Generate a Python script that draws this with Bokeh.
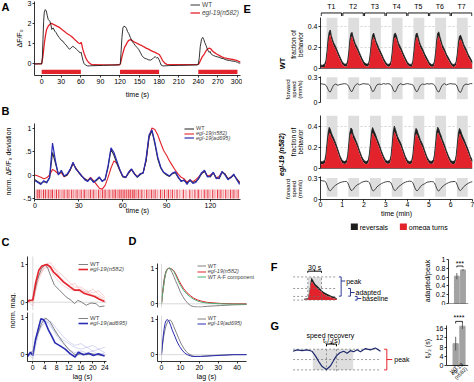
import numpy as np
from math import pi
from bokeh.plotting import figure
from bokeh.layouts import row, column
from bokeh.models import Range1d, Legend, LegendItem, Span, FixedTicker
from bokeh.core.properties import value
from bokeh.embed import file_html
from bokeh.resources import INLINE

FONT = "Liberation Sans"
BLACK = "#1e1e1e"; GRAY = "#808080"; RED = "#e3232c"; BLUE = "#2a2cb4"
GREEN = "#4dae78"; LPINK = "#f3a3a7"; LBLUE = "#aab0e4"; BAND = "#dedede"; NAVY = "#2f3d96"

# ---------------- data ----------------
# A: calcium traces (time s, dF/F0)
a_wt_t = [-11, -2, 0, 1, 2, 3, 4, 5.5, 7, 8.5, 10, 12.6, 14, 15.5, 17.7, 20, 22, 25, 27, 30, 32.7, 35, 37, 40, 42.8, 45, 47.8, 50, 52.9, 55, 57, 59, 60.5, 62, 63.5, 65, 67, 70.5, 75, 85, 95, 105, 115, 119, 120.5, 121.5, 123, 124.5, 126, 128, 130, 131.5, 133.5, 136, 138.5, 141, 143.6, 146, 148.6, 151, 153.6, 156, 158.6, 161, 164, 167, 170, 172, 174, 176, 178, 180, 181.5, 183, 186, 195, 210, 225, 238, 240, 241.5, 243, 245, 246.8, 248.5, 250, 251.8, 254, 256.8, 258, 260, 263, 266, 269.4, 272, 275, 278, 281, 284, 288, 291, 294.6, 297, 300, 302, 304.7]
a_wt_v = [0.0, 0.01, 0.0, 0.3, 1.2, 2.1, 2.55, 2.68, 2.62, 2.4, 2.2, 2.1, 1.95, 1.7, 1.78, 1.62, 1.55, 1.38, 1.3, 1.17, 1.12, 1.0, 0.95, 0.82, 0.72, 0.8, 0.87, 0.82, 0.74, 0.68, 0.6, 0.55, 0.58, 0.35, 0.15, 0.02, -0.05, -0.1, -0.09, -0.08, -0.07, -0.06, -0.05, -0.04, 0.0, 0.5, 1.3, 1.78, 1.86, 1.84, 1.75, 1.6, 1.5, 1.3, 1.12, 1.02, 0.9, 0.82, 0.72, 0.58, 0.42, 0.32, 0.27, 0.25, 0.2, 0.19, 0.25, 0.32, 0.36, 0.3, 0.32, 0.2, 0.08, -0.05, -0.1, -0.08, -0.07, -0.06, -0.05, -0.03, 0.3, 0.85, 1.22, 1.31, 1.2, 1.05, 0.92, 0.72, 0.57, 0.62, 0.48, 0.42, 0.38, 0.35, 0.33, 0.28, 0.27, 0.22, 0.19, 0.17, 0.15, 0.13, 0.12, 0.08, 0.05, 0.04]
a_n_t = [-11, -1, 0, 2, 4, 6, 7.6, 9, 11, 13, 15.2, 18, 21, 24, 27.7, 30, 33, 35, 37.8, 40, 42.5, 45.3, 48, 50.4, 53, 55.4, 57.5, 59, 60.5, 61.5, 63, 65, 68, 70, 73, 76, 80, 95, 110, 118, 120, 121, 123, 125, 127, 128.6, 131, 133, 136, 139, 141, 143.6, 147, 150, 153.6, 157, 160, 163.7, 167, 170, 173.8, 176, 178.8, 180.5, 182.8, 185, 188.9, 192, 200, 215, 230, 239, 240.8, 243, 246, 249.2, 252, 254.5, 256.8, 259, 261.5, 264.4, 268, 272, 276, 280, 284, 289.7, 293, 297.3, 300, 302, 304.7]
a_n_v = [0.0, 0.0, 0.02, 0.4, 1.0, 1.45, 1.7, 1.8, 1.9, 1.97, 2.0, 1.95, 1.9, 1.85, 1.79, 1.72, 1.65, 1.6, 1.53, 1.48, 1.43, 1.37, 1.29, 1.21, 1.14, 1.06, 1.02, 1.0, 1.07, 0.95, 0.73, 0.52, 0.27, 0.15, 0.05, -0.02, -0.04, -0.05, -0.05, -0.04, -0.03, 0.05, 0.35, 0.6, 0.82, 0.9, 1.05, 1.15, 1.2, 1.15, 1.1, 1.06, 1.0, 0.95, 0.9, 0.84, 0.78, 0.73, 0.67, 0.62, 0.57, 0.53, 0.49, 0.45, 0.33, 0.18, 0.03, -0.02, -0.03, -0.03, -0.03, -0.02, 0.0, 0.15, 0.35, 0.49, 0.65, 0.74, 0.78, 0.75, 0.65, 0.57, 0.49, 0.42, 0.35, 0.3, 0.27, 0.24, 0.22, 0.19, 0.16, 0.13, 0.1]
stim_on = [0, 120, 240]
stim_off = [60, 180, 300]
a_xticks = [0, 30, 60, 90, 120, 150, 180, 210, 240, 270, 300]

# B: normalized deviation (time s)
b_t = list(range(0, 141, 2))
b_ad = [-0.12, -0.16, -0.20, -0.12, -0.17, -0.05, 0.68, 0.30, 0.00, 0.10,
        -0.02, 0.02, 0.12, 0.27, 0.12, 0.06, -0.02, -0.10, -0.14, -0.06,
        -0.16, -0.10, -0.04, -0.14, -0.08, 0.20, 0.58, 0.48, 0.30, 0.12,
        -0.02, -0.06, 0.06, 0.13, 0.02, -0.04, 0.03, 0.04, 0.35, 0.85,
        0.96, 0.70, 0.38, 0.17, 0.06, 0.02, -0.02, 0.04, 0.07, -0.04,
        -0.14, -0.10, -0.20, -0.10, -0.18, -0.16, -0.06, 0.05, 0.10, -0.04,
        -0.02, 0.06, -0.08, -0.06, 0.08, 0.00, -0.10, -0.05, 0.02, -0.10, -0.20]
b_wt = [-0.10, -0.14, -0.18, -0.14, -0.15, -0.06, 0.48, 0.25, 0.02, 0.08,
        -0.03, 0.00, 0.10, 0.25, 0.14, 0.05, -0.03, -0.08, -0.12, -0.08,
        -0.14, -0.12, -0.06, -0.12, -0.10, 0.16, 0.55, 0.42, 0.25, 0.10,
        -0.04, -0.05, 0.04, 0.12, 0.03, -0.05, 0.01, 0.05, 0.30, 0.80,
        0.94, 0.66, 0.34, 0.15, 0.05, 0.00, -0.03, 0.03, 0.05, -0.06,
        -0.12, -0.12, -0.17, -0.12, -0.16, -0.14, -0.08, 0.03, 0.08, -0.03,
        -0.04, 0.05, -0.06, -0.08, 0.06, 0.02, -0.08, -0.06, 0.00, -0.08, -0.17]
b_n = [0.00, -0.02, -0.05, -0.08, -0.06, 0.00, 0.12, 0.08, 0.02, 0.05,
       -0.04, 0.00, 0.10, 0.24, 0.15, 0.05, -0.02, -0.08, -0.12, -0.05,
       -0.12, -0.20, -0.28, -0.30, -0.22, -0.05, 0.15, 0.30, 0.25, 0.10,
       -0.02, -0.05, 0.04, 0.12, 0.03, -0.03, 0.02, 0.05, 0.30, 0.80,
       1.00, 0.97, 0.85, 0.68, 0.52, 0.42, 0.30, 0.20, 0.10, 0.02,
       -0.05, -0.08, -0.15, -0.10, -0.14, -0.10, -0.04, 0.03, 0.08, -0.02,
       0.00, 0.04, -0.06, -0.03, 0.06, 0.02, -0.08, -0.04, 0.00, -0.08, -0.15]
raster_strong = [1.5, 3.2, 5.8, 7.1, 9.4, 12.0, 14.7, 16.3, 19.9, 22.5, 25.1, 28.8, 31.6, 34.0, 37.9, 40.2, 43.5, 46.1, 48.0, 50.7, 53.3, 55.2, 57.6, 58.9, 61.0, 62.4, 63.8, 65.5, 66.9, 68.3, 70.7, 73.1, 76.4, 79.8, 82.2, 85.9, 88.6, 91.3, 94.0, 97.2, 101.5, 105.9, 109.4, 112.0, 115.8, 118.3, 121.6, 124.9, 127.2, 130.5, 133.8, 136.1, 139.0]
raster_weak = [2.4, 4.5, 8.3, 10.6, 11.2, 13.5, 17.8, 18.6, 21.3, 23.7, 26.4, 27.5, 30.2, 33.1, 35.5, 36.7, 39.1, 41.8, 44.6, 47.2, 49.3, 51.9, 54.4, 56.5, 59.7, 60.3, 64.6, 67.6, 69.5, 71.9, 74.8, 77.5, 78.6, 81.0, 83.7, 87.1, 90.2, 92.6, 95.5, 99.0, 103.3, 107.6, 111.1, 113.9, 117.0, 119.7, 123.1, 126.0, 128.8, 132.1, 135.0, 137.6]

# C: cross-correlation magnitudes (lag s)
c1_wt_lag = [-1.8, 0, 1.4, 2.9, 3.7, 4.2, 5.0, 6.1, 7.2, 8.9, 11.1, 12.8, 13.9, 15.0, 16.1, 17.8, 19.4, 21.1, 22.2, 23.9]
c1_wt_v = [0.03, 0.05, 0.57, 0.89, 0.97, 1.0, 0.9, 0.67, 0.45, 0.32, 0.14, 0.05, -0.04, 0.05, 0.01, -0.08, -0.02, -0.04, -0.12, -0.1]
c1_n_lag = [-1.8, -1, 0, 0.9, 2.0, 3.0, 4.7, 5.8, 6.9, 8.6, 10.2, 12.5, 13.9, 15.6, 17.2, 18.9, 20.6, 22.2, 23.9]
c1_n_v = [0.02, 0.05, 0.06, 0.5, 0.85, 0.96, 1.0, 0.94, 0.8, 0.67, 0.54, 0.4, 0.32, 0.32, 0.23, 0.19, 0.15, 0.08, 0.02]
c_ind_lag = [-2, 0, 2, 4, 6, 8, 10, 12, 14, 16, 18, 20, 22, 24]
c1_ind = [[0.1, 0.0, 0.75, 0.95, 0.85, 0.6, 0.45, 0.35, 0.3, 0.35, 0.25, 0.2, 0.15, 0.05],
          [-0.05, 0.1, 0.6, 1.0, 1.05, 0.8, 0.55, 0.45, 0.5, 0.3, 0.25, 0.35, 0.2, 0.1],
          [0.05, -0.1, 0.7, 0.9, 0.95, 0.85, 0.7, 0.55, 0.4, 0.4, 0.3, 0.25, 0.3, 0.15],
          [0.0, 0.05, 0.8, 1.0, 0.9, 0.75, 0.6, 0.45, 0.35, 0.25, 0.3, 0.15, 0.1, 0.0]]
c2_wt_lag = [-1.9, 0, 1.4, 2.9, 4.0, 4.7, 5.8, 7.0, 8.6, 10.2, 11.9, 13.6, 14.6, 16.1, 17.8, 19.4, 21.6, 23.9]
c2_wt_v = [-0.02, 0.1, 0.5, 0.84, 0.97, 0.97, 0.88, 0.71, 0.5, 0.32, 0.15, 0.03, -0.01, 0.03, 0.0, 0.03, 0.0, -0.03]
c2_ad_lag = [-1.9, -0.8, 0, 0.9, 2.0, 2.7, 3.6, 4.1, 5.2, 6.3, 7.4, 9.1, 10.8, 12.4, 14.1, 15.2, 16.9, 18.6, 20.2, 21.9, 23.9]
c2_ad_v = [-0.06, 0.07, -0.02, 0.41, 0.75, 0.97, 0.94, 0.88, 0.67, 0.5, 0.32, 0.24, 0.15, 0.03, -0.06, 0.07, 0.0, 0.04, -0.02, 0.03, -0.03]
c2_ind = [[0.05, -0.1, 0.6, 0.95, 0.75, 0.55, 0.4, 0.3, 0.2, 0.15, 0.2, 0.1, 0.15, 0.05],
          [-0.1, 0.1, 0.7, 0.85, 0.9, 0.7, 0.5, 0.35, 0.25, 0.3, 0.2, 0.25, 0.15, 0.2],
          [0.0, 0.0, 0.8, 1.0, 0.8, 0.5, 0.3, 0.15, 0.05, 0.1, 0.05, 0.1, 0.0, 0.05]]

# D: model fits (lag s)
d1_wt_t = [0, 0.5, 1.2, 2.0, 2.5, 3.2, 3.9, 4.5, 5.6, 6.5, 7.4, 8.7, 10, 11.3, 12.7, 14, 15.3, 17, 18.9, 21, 24.2, 31.2, 38, 45]
d1_wt_v = [0, 0.3, 0.65, 0.85, 0.93, 0.98, 1.0, 0.98, 0.88, 0.77, 0.65, 0.5, 0.33, 0.2, 0.09, 0.01, -0.05, -0.08, -0.09, -0.09, -0.07, -0.05, -0.03, -0.02]
d1_n_t = [0, 0.6, 1.6, 2.3, 3.0, 3.7, 4.4, 5.4, 6.5, 7.8, 9.2, 10.5, 11.8, 13.5, 15.3, 17, 18.9, 21.5, 24.2, 31.2, 38, 45]
d1_n_v = [0, 0.3, 0.7, 0.88, 0.97, 0.995, 1.0, 0.98, 0.93, 0.81, 0.65, 0.53, 0.42, 0.31, 0.23, 0.16, 0.11, 0.07, 0.04, 0.01, 0.0, 0.0]
d1_af_v = [0, 0.29, 0.68, 0.87, 0.96, 0.99, 1.0, 0.97, 0.91, 0.77, 0.6, 0.48, 0.37, 0.27, 0.19, 0.13, 0.08, 0.04, 0.02, 0.0, -0.01, -0.01]
d2_wt_t = [0, 0.5, 1.2, 1.9, 2.5, 3.2, 3.9, 4.8, 5.6, 6.5, 7.8, 9.2, 10.5, 11.8, 13.2, 14.5, 17.1, 20.6, 27.7, 38.3, 45]
d2_wt_v = [0, 0.25, 0.53, 0.72, 0.84, 0.93, 0.98, 0.98, 0.91, 0.8, 0.63, 0.45, 0.3, 0.18, 0.08, 0.02, -0.05, -0.05, -0.02, 0.0, 0.0]
d2_ad_t = [0, 0.4, 0.9, 1.4, 1.9, 2.4, 3.0, 3.5, 4.1, 4.8, 5.6, 7.0, 8.3, 9.6, 10.9, 12.2, 13.6, 16.2, 20.6, 27.7, 38.3, 45]
d2_ad_v = [0, 0.25, 0.53, 0.74, 0.89, 0.97, 1.0, 0.98, 0.93, 0.84, 0.71, 0.53, 0.36, 0.23, 0.13, 0.05, 0.0, -0.05, -0.05, -0.03, 0.0, 0.0]

# E: behaviour fractions & speed (time min)
e_off = [0.0, 0.1, 0.2, 0.25, 0.3, 0.35, 0.4, 0.45, 0.5, 0.55, 0.6, 0.7, 0.8, 0.9]
e_t = [k + o for k in range(7) for o in e_off] + [7.0]
wt_omega = [0.012, 0.01, 0.018, 0.05, 0.13, 0.24, 0.31, 0.33, 0.28, 0.25, 0.22, 0.18, 0.13, 0.085,
            0.04, 0.022, 0.016, 0.04, 0.12, 0.23, 0.29, 0.31, 0.27, 0.24, 0.21, 0.17, 0.12, 0.075,
            0.036, 0.02, 0.02, 0.05, 0.13, 0.22, 0.28, 0.30, 0.27, 0.235, 0.21, 0.16, 0.12, 0.072,
            0.035, 0.016, 0.02, 0.04, 0.12, 0.23, 0.29, 0.30, 0.28, 0.24, 0.21, 0.17, 0.12, 0.078,
            0.036, 0.02, 0.015, 0.04, 0.13, 0.23, 0.29, 0.30, 0.27, 0.23, 0.20, 0.16, 0.11, 0.074,
            0.034, 0.016, 0.016, 0.04, 0.12, 0.23, 0.30, 0.31, 0.27, 0.24, 0.20, 0.16, 0.11, 0.076,
            0.035, 0.015, 0.02, 0.04, 0.11, 0.21, 0.27, 0.28, 0.26, 0.23, 0.20, 0.16, 0.11, 0.075, 0.036]
wt_rev = [0.02, 0.022, 0.025, 0.03, 0.035, 0.045, 0.04, 0.04, 0.035, 0.03, 0.03, 0.03, 0.028, 0.025,
          0.024, 0.022, 0.026, 0.032, 0.035, 0.042, 0.045, 0.038, 0.034, 0.032, 0.03, 0.028, 0.03, 0.026,
          0.025, 0.024, 0.024, 0.03, 0.034, 0.04, 0.042, 0.04, 0.033, 0.03, 0.031, 0.029, 0.027, 0.026,
          0.024, 0.023, 0.025, 0.031, 0.036, 0.041, 0.043, 0.039, 0.034, 0.031, 0.03, 0.029, 0.028, 0.025,
          0.025, 0.022, 0.024, 0.03, 0.034, 0.04, 0.041, 0.04, 0.032, 0.031, 0.03, 0.028, 0.029, 0.026,
          0.024, 0.023, 0.025, 0.031, 0.035, 0.043, 0.042, 0.041, 0.034, 0.03, 0.031, 0.028, 0.027, 0.025,
          0.025, 0.022, 0.024, 0.03, 0.033, 0.04, 0.042, 0.04, 0.033, 0.031, 0.029, 0.028, 0.028, 0.026, 0.025]
egl_omega = [0.04, 0.04, 0.05, 0.10, 0.20, 0.29, 0.34, 0.33, 0.30, 0.28, 0.26, 0.21, 0.15, 0.09,
             0.05, 0.042, 0.048, 0.09, 0.19, 0.29, 0.33, 0.33, 0.29, 0.27, 0.25, 0.20, 0.14, 0.085,
             0.05, 0.04, 0.05, 0.10, 0.20, 0.30, 0.34, 0.32, 0.30, 0.28, 0.25, 0.20, 0.14, 0.09,
             0.052, 0.043, 0.05, 0.09, 0.19, 0.30, 0.35, 0.33, 0.30, 0.27, 0.25, 0.21, 0.15, 0.09,
             0.05, 0.04, 0.047, 0.09, 0.19, 0.29, 0.33, 0.32, 0.29, 0.27, 0.24, 0.20, 0.14, 0.085,
             0.048, 0.042, 0.05, 0.10, 0.20, 0.30, 0.34, 0.33, 0.30, 0.28, 0.25, 0.20, 0.14, 0.088,
             0.05, 0.04, 0.048, 0.09, 0.19, 0.29, 0.33, 0.32, 0.29, 0.27, 0.25, 0.20, 0.15, 0.09, 0.05]
egl_rev = [0.025, 0.025, 0.03, 0.038, 0.042, 0.05, 0.052, 0.045, 0.04, 0.035, 0.032, 0.03, 0.03, 0.028,
           0.027, 0.024, 0.03, 0.036, 0.044, 0.048, 0.055, 0.046, 0.038, 0.036, 0.031, 0.03, 0.029, 0.028,
           0.026, 0.025, 0.028, 0.038, 0.042, 0.052, 0.05, 0.044, 0.04, 0.034, 0.033, 0.031, 0.03, 0.027,
           0.025, 0.026, 0.03, 0.037, 0.043, 0.05, 0.054, 0.045, 0.039, 0.035, 0.032, 0.03, 0.029, 0.028,
           0.027, 0.024, 0.029, 0.038, 0.041, 0.049, 0.052, 0.046, 0.04, 0.034, 0.032, 0.031, 0.03, 0.027,
           0.026, 0.025, 0.03, 0.036, 0.042, 0.05, 0.053, 0.044, 0.039, 0.036, 0.031, 0.03, 0.029, 0.028,
           0.025, 0.026, 0.029, 0.037, 0.043, 0.05, 0.051, 0.045, 0.04, 0.035, 0.032, 0.03, 0.03, 0.027, 0.026]
wt_speed = [0.225, 0.22, 0.215, 0.205, 0.185, 0.155, 0.13, 0.125, 0.15, 0.18, 0.205, 0.22, 0.205, 0.215,
            0.22, 0.225, 0.22, 0.21, 0.19, 0.16, 0.135, 0.13, 0.155, 0.185, 0.205, 0.225, 0.21, 0.22,
            0.225, 0.22, 0.22, 0.21, 0.19, 0.155, 0.13, 0.135, 0.16, 0.19, 0.21, 0.22, 0.215, 0.225,
            0.22, 0.225, 0.22, 0.205, 0.185, 0.15, 0.13, 0.13, 0.155, 0.185, 0.21, 0.225, 0.21, 0.22,
            0.225, 0.22, 0.215, 0.21, 0.19, 0.16, 0.135, 0.13, 0.15, 0.18, 0.205, 0.22, 0.215, 0.225,
            0.22, 0.225, 0.22, 0.205, 0.185, 0.155, 0.13, 0.125, 0.15, 0.18, 0.205, 0.225, 0.21, 0.22,
            0.225, 0.22, 0.22, 0.21, 0.185, 0.15, 0.125, 0.12, 0.145, 0.18, 0.205, 0.22, 0.215, 0.225, 0.225]
egl_speed = [0.265, 0.26, 0.255, 0.24, 0.2, 0.16, 0.13, 0.12, 0.135, 0.155, 0.175, 0.2, 0.22, 0.235,
             0.245, 0.25, 0.25, 0.235, 0.2, 0.16, 0.13, 0.125, 0.14, 0.16, 0.18, 0.205, 0.22, 0.24,
             0.25, 0.255, 0.25, 0.235, 0.2, 0.155, 0.125, 0.12, 0.135, 0.155, 0.175, 0.2, 0.22, 0.235,
             0.245, 0.25, 0.245, 0.23, 0.195, 0.155, 0.13, 0.125, 0.14, 0.16, 0.18, 0.2, 0.225, 0.24,
             0.25, 0.255, 0.25, 0.235, 0.2, 0.16, 0.13, 0.12, 0.135, 0.155, 0.18, 0.205, 0.22, 0.24,
             0.245, 0.25, 0.245, 0.23, 0.195, 0.155, 0.125, 0.12, 0.135, 0.155, 0.175, 0.2, 0.22, 0.235,
             0.245, 0.25, 0.25, 0.235, 0.2, 0.16, 0.13, 0.125, 0.14, 0.16, 0.18, 0.205, 0.225, 0.24, 0.25]
band_on = [0.28, 1.28, 2.28, 3.28, 4.28, 5.28, 6.28]
band_off = [0.78, 1.78, 2.78, 3.78, 4.78, 5.78, 6.78]
t_labels = ["T1", "T2", "T3", "T4", "T5", "T6", "T7"]
t_centers = [0.5, 1.5, 2.5, 3.5, 4.5, 5.5, 6.5]
e_legend_labels = ["reversals", "omega turns"]
e_legend_colors = [BLACK, RED]

# F schematic (time s, fraction)
f_t = [-8, -4, 0, 2, 4.4, 6, 8, 10, 11.7, 14, 16.8, 20, 24, 27, 30, 34, 38.8, 44, 49.7, 55, 60.6, 64]
f_tot = [0.02, 0.025, 0.03, 0.08, 0.18, 0.28, 0.355, 0.33, 0.31, 0.28, 0.25, 0.23, 0.2, 0.18, 0.16, 0.13, 0.11, 0.09, 0.07, 0.055, 0.04, 0.02]
f_om = [0.005, 0.008, 0.01, 0.05, 0.13, 0.22, 0.29, 0.28, 0.26, 0.235, 0.21, 0.19, 0.16, 0.145, 0.125, 0.1, 0.08, 0.06, 0.045, 0.03, 0.02, 0.008]
f_levels = [0.364, 0.182, 0.057, 0.0]
f_br_x = [73.0, 93.4, 108.0]
f_br_top = [0.364, 0.182, 0.057]
f_br_bot = [0.062, 0.062, 0.0]
f_br_mid = [0.30, 0.119, 0.025]
f_br_lab = ["peak", "adapted", "baseline"]

# G schematic (time s, speed)
g_t = [-14.6, -11.6, -7.9, -4.2, -0.5, 2.0, 4.5, 7.0, 10.2, 13.1, 15.6, 17.6, 20.1, 23.0, 25.5, 28.0, 30.4, 32.9, 35.4, 39.1, 42.8, 46.5, 50.3]
g_v = [0.21, 0.217, 0.213, 0.217, 0.21, 0.188, 0.16, 0.136, 0.122, 0.139, 0.167, 0.188, 0.203, 0.21, 0.201, 0.213, 0.208, 0.217, 0.208, 0.223, 0.217, 0.226, 0.21]
g_levels = [0.22, 0.17, 0.12]
g_tmin = 10.2
g_thalf = 17.6

# bar charts
bar_x = [1, 2]
fbar_v = [0.62, 0.76]
fbar_e = [0.07, 0.02]
gbar_v = [9.5, 17.1]
gbar_e = [3.0, 1.2]
bar_names = ["WT", "egl-19\n(n582)"]


# ---------------- helpers ----------------
def style_ax(ax, fs="7px"):
    ax.axis_line_color = "black"; ax.axis_line_width = 0.8
    ax.major_tick_line_color = "black"; ax.major_tick_line_width = 0.8
    ax.major_tick_out = 2; ax.major_tick_in = 0
    ax.minor_tick_line_color = None
    ax.major_label_text_font = FONT; ax.major_label_text_font_size = fs
    ax.major_label_text_color = "black"
    ax.axis_label_text_font = FONT; ax.axis_label_text_font_size = fs
    ax.axis_label_text_font_style = "normal"; ax.axis_label_text_color = "black"
    ax.major_label_standoff = 1; ax.axis_label_standoff = 3


def mkfig(w, h, xr, yr, top=0, right=0, bottom=0, left=0, xaxis=True, yaxis=True, free=False):
    p = figure(width=w, height=h, x_range=Range1d(*xr), y_range=Range1d(*yr),
               output_backend="svg", toolbar_location=None,
               x_axis_location="below" if xaxis else None,
               y_axis_location="left" if yaxis else None,
               min_border_top=top, min_border_right=right,
               min_border_bottom=bottom, min_border_left=left)
    p.outline_line_color = None
    p.grid.visible = False
    for ax in p.axis:
        style_ax(ax)
    if free:
        try:
            p.frame_align = False
        except Exception:
            pass
    return p


def leg(p, r, label, fl, fb, px, pyc, fs="7px", rowh=7, italic=False, gw=10):
    ih = int(round(rowh))
    L = Legend(items=[LegendItem(label=label, renderers=[r])],
               location=(px - fl, fb - pyc - rowh / 2),
               padding=0, margin=0, spacing=0, border_line_color=None,
               background_fill_alpha=0, label_text_font=FONT, label_text_font_size=fs,
               label_standoff=2, glyph_width=gw, glyph_height=ih, label_height=ih,
               label_text_font_style="italic" if italic else "normal",
               label_text_baseline="middle")
    p.add_layout(L)


def txt(p, x, y, s, size="7px", align="center", baseline="middle", style="normal", angle=0.0, lh=1.05):
    p.text(x=x, y=y, text=s, text_font=value(FONT), text_font_size=size, text_align=align,
           text_baseline=baseline, text_font_style=style, angle=angle, text_line_height=lh)


# ---------------- letter column for A / B (page coordinates) ----------------
LC = mkfig(12, 230, (0, 12), (230, 0), xaxis=False, yaxis=False, free=True)
txt(LC, [1], [0.5], ["A"], size="11px", align="left", baseline="top", style="bold")
txt(LC, [1], [104], ["B"], size="11px", align="left", baseline="top", style="bold")
txt(LC, [8], [161], ["norm. ΔF/F₀ deviation"], angle=pi / 2)

# ---------------- A ----------------
pA = mkfig(230, 100, (-11, 304.7), (-0.569, 3.08), top=1, right=2, bottom=22, left=19)
pA.quad(left=stim_on, right=stim_off, bottom=-0.5, top=-0.28, color=RED, line_color=None)
rAn = pA.line(a_n_t, a_n_v, color=RED, line_width=1.3)
rAw = pA.line(a_wt_t, a_wt_v, color=BLACK, line_width=0.9)
pA.xaxis.ticker = FixedTicker(ticks=a_xticks)
pA.yaxis.ticker = FixedTicker(ticks=[0, 1, 2, 3])
pA.xaxis.axis_label = "time (s)"
pA.yaxis.axis_label = "ΔF/F₀"
pA.yaxis.axis_label_standoff = 2
pA.xaxis.axis_label_standoff = 4
leg(pA, rAw, "WT", 31, 78, 187, 7.5, fs="6.5px")
leg(pA, rAn, "egl-19(n582)", 31, 78, 187, 15, fs="6.5px", italic=True)

# ---------------- B ----------------
pB = mkfig(230, 130, (-0.34, 140.6), (-0.521, 1.096), top=23, right=2, bottom=31, left=18)
pB.quad(left=[0], right=[140], bottom=[-0.5], top=[-0.31], color="#fbdde0", line_color=None)
pB.segment(x0=raster_weak, y0=-0.5, x1=raster_weak, y1=-0.31, color="#ef8f95", line_width=0.9)
pB.segment(x0=raster_strong, y0=-0.5, x1=raster_strong, y1=-0.31, color=RED, line_width=0.9)
rBn = pB.line(b_t, b_n, color=RED, line_width=1.1)
rBw = pB.line(b_t, b_wt, color="#333333", line_width=1.1)
rBa = pB.line(b_t, b_ad, color=BLUE, line_width=1.2)
pB.xaxis.ticker = FixedTicker(ticks=[0, 30, 60, 90, 120])
pB.yaxis.ticker = FixedTicker(ticks=[-0.5, 0, 0.5, 1])
pB.yaxis.major_label_overrides = {-0.5: "-.5", 0: "0", 0.5: ".5", 1: "1"}
pB.xaxis.axis_label = "time (s)"
pB.xaxis.axis_label_standoff = -4
leg(pB, rBw, "WT", 30, 199, 180, 129, fs="5.5px", rowh=4.7)
leg(pB, rBn, "egl-19(n582)", 30, 199, 180, 133.7, fs="5.5px", rowh=4.7, italic=True)
leg(pB, rBa, "egl-19(ad695)", 30, 199, 180, 138.4, fs="5.5px", rowh=4.7, italic=True)

# ---------------- E labels column (page coordinates) ----------------
GE = mkfig(62, 230, (242, 304), (230, 0), xaxis=False, yaxis=False, free=True)
txt(GE, [243], [2], ["E"], size="11px", align="left", baseline="top", style="bold")
txt(GE, [296.5, 296.5], [44, 141.5], ["fraction of\nbehavior"] * 2, size="6.5px", angle=pi / 2, lh=1.0)
txt(GE, [293], [89], ["forward\nspeed\n(mm/s)"], size="6px", angle=pi / 2, lh=1.0)
txt(GE, [293], [188.5], ["forward\nspeed\n(mm/s)"], size="6px", angle=pi / 2, lh=1.0)
txt(GE, [282], [63], ["WT"], size="7.5px", style="bold", angle=pi / 2)
txt(GE, [281], [154], ["egl-19 (n582)"], size="7px", style="bold italic", angle=pi / 2)

# ---------------- E ----------------
ER = (0, 7)
EW = 170; EL = 13; ERB = 2   # frames span page x 317..472
E0 = mkfig(EW, 16, ER, (0, 1), 0, ERB, 0, EL, xaxis=False, yaxis=False)
txt(E0, t_centers, [0.64] * 7, t_labels)
bl = [c - 0.47 for c in t_centers]; br = [c + 0.47 for c in t_centers]
E0.segment(x0=bl, y0=0.22, x1=br, y1=0.22, color="black", line_width=0.9)
E0.segment(x0=bl, y0=0.22, x1=bl, y1=0.02, color="black", line_width=0.9)
E0.segment(x0=br, y0=0.22, x1=br, y1=0.02, color="black", line_width=0.9)


def frac_fig(h, top, bottom, yr, omega, rev):
    p = mkfig(EW, h, ER, yr, top, ERB, bottom, EL, xaxis=False)
    p.ygrid.visible = True
    p.ygrid.ticker = FixedTicker(ticks=[0.2, 0.4])
    p.ygrid.grid_line_dash = "2 2"; p.ygrid.grid_line_color = "#b5b5b5"; p.ygrid.grid_line_width = 0.6
    p.quad(left=band_on, right=band_off, bottom=0, top=yr[1], color=BAND, line_color=None)
    tot = (np.array(omega) + np.array(rev)).tolist()
    p.varea(x=e_t, y1=omega, y2=tot, color=BLACK)
    p.varea(x=e_t, y1=[0] * len(e_t), y2=omega, color=RED)
    p.line(e_t, tot, color=BLACK, line_width=0.8)
    p.add_layout(Span(location=0, dimension="width", line_color="black", line_width=1.2))
    p.yaxis.ticker = FixedTicker(ticks=[0, 0.2, 0.4])
    p.yaxis.major_label_overrides = {0: "0", 0.2: "0.2", 0.4: "0.4"}
    return p


def speed_fig(h, top, bottom, yr, sp, xaxis=False):
    p = mkfig(EW, h, ER, yr, top, ERB, bottom, EL, xaxis=xaxis)
    p.quad(left=band_on, right=band_off, bottom=0.04, top=0.3, color=BAND, line_color=None)
    p.line(e_t, sp, color="#333333", line_width=0.9)
    p.yaxis.ticker = FixedTicker(ticks=[0, 0.3])
    p.yaxis.major_label_overrides = {0: "0", 0.3: "0.3"}
    return p


E1 = frac_fig(56, 1, 4, (0, 0.49), wt_omega, wt_rev)
E2 = speed_fig(34, 4, 4, (0, 0.31), wt_speed)
E3 = frac_fig(69, 9, 7, (0, 0.505), egl_omega, egl_rev)
E4 = speed_fig(44, 1, 18, (0, 0.32), egl_speed, xaxis=True)
E4.xaxis.ticker = FixedTicker(ticks=[0, 1, 2, 3, 4, 5, 6, 7])
E4.xaxis.axis_label = "time (min)"
E4.xaxis.major_label_standoff = 0
E4.xaxis.axis_label_standoff = 0
# legend strip under panel E (x in frame pixels, 0 = page x 317)
E5 = mkfig(EW, 11, (0, 155), (0, 11), 0, ERB, 0, EL, xaxis=False, yaxis=False)
leg_key_x = [34.5, 84.5]
E5.scatter(x=leg_key_x, y=[4.5, 4.5], marker="square", size=7, color=e_legend_colors, line_color=None)
txt(E5, [k + 5.5 for k in leg_key_x], [4.5, 4.5], e_legend_labels, align="left")

# ---------------- C ----------------
Lf = mkfig(16, 152, (0, 16), (0, 152), xaxis=False, yaxis=False, free=True)
txt(Lf, [1], [147], ["C"], size="11px", align="left", baseline="top", style="bold")
txt(Lf, [12], [72], ["norm. mag."], angle=pi / 2)

C_AXEND = 24.57
C1_YB = (-0.22, 1.212)
CX = (-1.77, 34.9)
C1 = mkfig(121, 81, CX, (-0.22, 1.902), 0, 0, 1, 11, xaxis=False)
C2 = mkfig(121, 71, CX, (-0.181, 1.137), 1, 0, 19, 11)
C1.yaxis.bounds = C1_YB
C1.segment(x0=[0], y0=[C1_YB[0]], x1=[0], y1=[C1_YB[1]], color="#c8c8c8", line_width=0.7)
C2.add_layout(Span(location=0, dimension="height", line_color="#c8c8c8", line_width=0.7))
for p in (C1, C2):
    p.segment(x0=[CX[0]], y0=[0], x1=[C_AXEND], y1=[0], color="#c8c8c8", line_width=0.7)
    p.yaxis.ticker = FixedTicker(ticks=[0, 1])
for tr in c1_ind:
    C1.line(c_ind_lag, tr, color=LPINK, line_width=0.7, alpha=0.7)
rC1w = C1.line(c1_wt_lag, c1_wt_v, color=GRAY, line_width=1.0)
rC1n = C1.line(c1_n_lag, c1_n_v, color=RED, line_width=1.6)
for tr in c2_ind:
    C2.line(c_ind_lag, tr, color=LBLUE, line_width=0.7, alpha=0.7)
rC2w = C2.line(c2_wt_lag, c2_wt_v, color=GRAY, line_width=1.0)
rC2a = C2.line(c2_ad_lag, c2_ad_v, color=BLUE, line_width=1.6)
C2.xaxis.ticker = FixedTicker(ticks=[0, 4, 8, 12, 16, 20, 24])
C2.xaxis.bounds = (CX[0], C_AXEND)
C2.xaxis.axis_label = "lag (s)"
C2.xaxis.axis_label_standoff = 0
leg(C1, rC1w, "WT", 27, 310, 78, 264, fs="6px", rowh=5.5)
leg(C1, rC1n, "egl-19(n582)", 27, 310, 78, 269.5, fs="6px", rowh=5.5, italic=True)
leg(C2, rC2w, "WT", 27, 363, 78, 320, fs="6px", rowh=5.5)
leg(C2, rC2a, "egl-19(ad695)", 27, 363, 78, 325.3, fs="6px", rowh=5.5, italic=True)
# letter D sits above panel D's frame, inside C1's canvas
txt(C1, [31.9], [1.77], ["D"], size="11px", align="left", baseline="top", style="bold")

# ---------------- D ----------------
D_AXEND = 44.97
DX = (-2.12, 49.73)
D1 = mkfig(118, 81, DX, (-0.104, 1.132), 33, 0, 4, 20, xaxis=False)
D2 = mkfig(118, 71, DX, (-0.195, 1.115), 4, 0, 18, 20)
for p in (D1, D2):
    p.segment(x0=[DX[0]], y0=[0], x1=[D_AXEND], y1=[0], color="#c8c8c8", line_width=0.7)
    p.add_layout(Span(location=0, dimension="height", line_color="#c8c8c8", line_width=0.7))
    p.yaxis.ticker = FixedTicker(ticks=[0, 1])
rD1w = D1.line(d1_wt_t, d1_wt_v, color=GRAY, line_width=1.0)
rD1n = D1.line(d1_n_t, d1_n_v, color=RED, line_width=1.0)
rD1g = D1.line(d1_n_t, d1_af_v, color=GREEN, line_width=1.0)
rD2w = D2.line(d2_wt_t, d2_wt_v, color=GRAY, line_width=1.0)
rD2a = D2.line(d2_ad_t, d2_ad_v, color=BLUE, line_width=1.0)
D2.xaxis.ticker = FixedTicker(ticks=[0, 10, 20, 30, 40])
D2.xaxis.bounds = (DX[0], D_AXEND)
D2.xaxis.axis_label = "lag (s)"
D2.xaxis.axis_label_standoff = 0
leg(D1, rD1w, "WT", 157, 307, 196.7, 266, fs="5.5px", rowh=5.4, gw=9)
leg(D1, rD1n, "egl-19(n582)", 157, 307, 196.7, 271.4, fs="5.5px", rowh=5.4, italic=True, gw=9)
leg(D1, rD1g, "WT A-F component", 157, 307, 196.7, 276.8, fs="5.4px", rowh=5.4, gw=9)
leg(D2, rD2w, "WT", 157, 364, 196.7, 321.3, fs="5.5px", rowh=5.4, gw=9)
leg(D2, rD2a, "egl-19(ad695)", 157, 364, 196.7, 326.7, fs="5.5px", rowh=5.4, italic=True, gw=9)

# ---------------- F schematic ----------------
Fs = mkfig(165, 75, (-114.4, 246.6), (-0.054, 0.654), xaxis=False, yaxis=False)
Fs.quad(left=[0], right=[30], bottom=[0], top=[f_levels[0]], color=BAND, line_color=None)
Fs.varea(x=f_t, y1=f_om, y2=f_tot, color=BLACK)
Fs.varea(x=f_t, y1=[0] * len(f_t), y2=f_om, color=RED)
Fs.segment(x0=[-32] * 4, y0=f_levels, x1=[64] * 4, y1=f_levels, color="#707070", line_width=0.7, line_dash="2 2")
Fs.segment(x0=[0, 30], y0=[0, 0], x1=[0, 30], y1=[f_levels[0]] * 2, color="#707070", line_width=0.7, line_dash="2 2")
Fs.segment(x0=[0, 0, 30, 15], y0=[0.455] * 4, x1=[30, 0, 30, 15], y1=[0.455, 0.43, 0.43, 0.475], color="black", line_width=1)
txt(Fs, [15], [0.52], ["30 s"])
bx = np.array(f_br_x)
Fs.segment(x0=bx, y0=f_br_top, x1=bx, y1=f_br_bot, color=NAVY, line_width=1)
Fs.segment(x0=bx - 5, y0=f_br_top, x1=bx, y1=f_br_top, color=NAVY, line_width=1)
Fs.segment(x0=bx - 5, y0=f_br_bot, x1=bx, y1=f_br_bot, color=NAVY, line_width=1)
Fs.segment(x0=bx, y0=f_br_mid, x1=bx + 9, y1=f_br_mid, color=NAVY, line_width=1)
txt(Fs, (bx + 11).tolist(), f_br_mid, f_br_lab, align="left")
txt(Fs, [-81], [0.62], ["F"], size="11px", align="left", baseline="top", style="bold")

# ---------------- F bars ----------------
BX = (-0.36, 2.9)
Fb = mkfig(54, 75, BX, (0, 1.02), 28, 6, 2, 20, xaxis=False)
Fb.vbar(x=bar_x, top=fbar_v, width=0.78, color="#a2a2a2")
fv = np.array(fbar_v); fe = np.array(fbar_e)
Fb.segment(x0=bar_x, y0=fv - fe, x1=bar_x, y1=fv + fe, color="#444444", line_width=0.8)
Fb.segment(x0=[1, 1, 2], y0=[0.85, 0.85, 0.85], x1=[2, 1, 2], y1=[0.85, 0.82, 0.82], color="black", line_width=0.8)
txt(Fb, [1.5], [0.915], ["***"])
Fb.add_layout(Span(location=0, dimension="width", line_color="black", line_width=0.8))
Fb.yaxis.ticker = FixedTicker(ticks=[0, 0.2, 0.4, 0.6, 0.8, 1])
Fb.yaxis.major_label_overrides = {0: "0", 0.2: "0.2", 0.4: "0.4", 0.6: "0.6", 0.8: "0.8", 1: "1"}
Fb.yaxis.axis_label = "adapted/peak"
Fb.yaxis.axis_label_standoff = 2
Fb.yaxis.bounds = (0, 1)

# ---------------- G schematic ----------------
Gs = mkfig(165, 77, (-42.5, 80), (0.059, 0.388), xaxis=False, yaxis=False)
Gs.quad(left=[0], right=[30], bottom=[g_levels[2]], top=[g_levels[0]], color=BAND, line_color=None)
Gs.segment(x0=[-14.6] * 3, y0=g_levels, x1=[50.4] * 3, y1=g_levels, color="#707070", line_width=0.7, line_dash="2 2")
Gs.segment(x0=[g_tmin, g_thalf], y0=[g_levels[0]] * 2, x1=[g_tmin, g_thalf], y1=[0.108] * 2,
           color="#707070", line_width=0.7, line_dash="2 2")
Gs.line(g_t, g_v, color="#1f2a6e", line_width=1.2)
gm = (g_tmin + g_thalf) / 2
Gs.segment(x0=[g_tmin, g_tmin, g_thalf, gm], y0=[0.245] * 4,
           x1=[g_thalf, g_tmin, g_thalf, gm], y1=[0.245, 0.234, 0.234, 0.252], color="black", line_width=1)
txt(Gs, [13.1], [0.287], ["speed recovery"])
txt(Gs, [gm], [0.262], ["t₁/₂(s)"])
Gs.segment(x0=[55, 53, 53, 55], y0=[g_levels[0], g_levels[0], g_levels[2], g_levels[1]],
           x1=[55, 55, 55, 59], y1=[g_levels[2], g_levels[0], g_levels[2], g_levels[1]], color=RED, line_width=1)
txt(Gs, [60.5], [g_levels[1]], ["peak"], align="left")
txt(Gs, [-31.4], [0.36], ["G"], size="11px", align="left", baseline="top", style="bold")

# ---------------- G bars ----------------
Gb = mkfig(54, 77, BX, (-7.41, 22.2), 9, 6, 0, 20, xaxis=False)
Gb.vbar(x=bar_x, top=gbar_v, width=0.78, color="#a2a2a2")
gv = np.array(gbar_v); ge = np.array(gbar_e)
Gb.segment(x0=bar_x, y0=gv - ge, x1=bar_x, y1=gv + ge, color="#444444", line_width=0.8)
Gb.segment(x0=[1, 1, 2], y0=[19.2, 19.2, 19.2], x1=[2, 1, 2], y1=[19.2, 18.3, 18.3], color="black", line_width=0.8)
txt(Gb, [1.5], [20.8], ["****"])
Gb.add_layout(Span(location=0, dimension="width", line_color="black", line_width=0.8))
Gb.text(x=[1.15, 2.25], y=[-0.6, -0.1], text=bar_names, text_font=value(FONT), text_font_size="5.3px",
        angle=pi / 4, text_align="right", text_baseline="middle", text_line_height=0.95)
Gb.yaxis.ticker = FixedTicker(ticks=[0, 4, 8, 12, 16])
Gb.yaxis.axis_label = "t₁/₂ (s)"
Gb.yaxis.axis_label_standoff = 2
Gb.yaxis.bounds = (0, 17.5)

# ---------------- layout ----------------
left_top = row(LC, column(pA, pB))
right_top = row(GE, column(E0, E1, E2, E3, E4, E5))
top_row = row(left_top, right_top)
bottom_row = row(Lf, column(C1, C2), column(D1, D2), column(row(Fs, Fb), row(Gs, Gb)))
page = column(top_row, bottom_row)

open("out.html", "w").write(file_html(page, INLINE))
